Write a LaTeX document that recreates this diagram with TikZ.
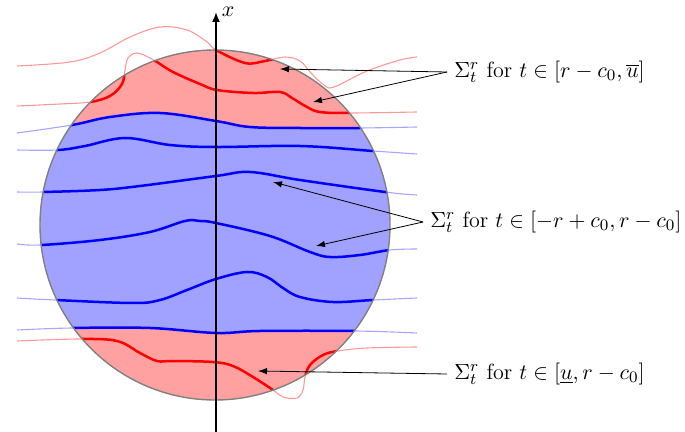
\documentclass[tikz,border=0pt]{standalone}
\usetikzlibrary{arrows.meta}
\begin{document}
\begin{tikzpicture}[x=0.5pt,y=-0.5pt,
 redfill/.style={fill=red!37},
 bluefill/.style={fill=blue!37},
 lightred/.style={draw=red, draw opacity=0.4, line width=0.55pt},
 lightblue/.style={draw=blue, draw opacity=0.35, line width=0.55pt},
 thickred/.style={draw=red, line width=1.25pt},
 thickblue/.style={draw=blue, line width=1.25pt},
 rim/.style={draw=black!50, line width=0.7pt},
 axisline/.style={line width=0.8pt, -{Latex[length=5pt,width=4pt]}},
 pointer/.style={line width=0.4pt, -{Latex[length=4.5pt,width=3.2pt]}},
 lab/.style={anchor=west, inner sep=3.5pt, font=\fontsize{11}{13}\selectfont}]

\useasboundingbox (0,0) rectangle (685,432);

% curves
\def\rA{plot[smooth,tension=0.6] coordinates {(17,66) (70,62) (100,53) (130,37) (160,27) (187,30) (207,42) (216,50) (245,63) (265,61) (285,57) (300,61) (311,73) (324,85) (334,87) (367,71) (400,60) (417,57)}}
\def\rB{plot[smooth,tension=0.6] coordinates {(17,106) (60,104) (90,102) (110,96) (122,84) (125,70) (128,58) (137,53) (150,58) (157,62) (173,72) (200,84) (217,90) (253,93) (280,92) (292,98) (307,107) (320,112) (350,113) (417,112)}}
\def\bT{plot[smooth,tension=0.6] coordinates {(17,133) (72,125) (110,117) (160,113) (216,121) (250,127) (300,128) (360,128) (417,127)}}
\def\bB{plot[smooth,tension=0.6] coordinates {(417,333) (355,331) (260,331) (216,333) (150,328) (72,328) (17,330)}}
\def\bb{plot[smooth,tension=0.6] coordinates {(17,150) (58,150) (85,146) (125,138) (170,145) (216,147) (300,146) (373,151) (417,154)}}
\def\bc{plot[smooth,tension=0.6] coordinates {(17,192) (43,192) (100,190) (140,186) (216,176) (250,172) (300,180) (385,192) (417,195)}}
\def\bd{plot[smooth,tension=0.6] coordinates {(17,244) (41,245) (100,240) (150,232) (185,221) (200,221) (216,223) (270,236) (310,252) (330,257) (360,255) (390,250) (417,249)}}
\def\be{plot[smooth,tension=0.6] coordinates {(17,298) (55,300) (133,303) (160,300) (187,290) (216,279) (247,272) (267,277) (283,288) (300,297) (333,302) (373,300) (417,298)}}
\def\rC{plot[smooth,tension=0.6] coordinates {(17,341) (80,339) (117,341) (140,353) (157,361) (173,361) (213,362) (233,366) (253,377) (273,390) (283,397) (297,398) (303,390) (305,377) (310,365) (323,355) (338,351) (367,348) (417,347)}}

% fills
\begin{scope}
  \clip (215,225) circle[radius=175];
  \fill[redfill] (0,0) rectangle (430,432);
  \fill[bluefill] plot[smooth,tension=0.6] coordinates {(17,133) (72,125) (110,117) (160,113) (216,121) (250,127) (300,128) (360,128) (417,127)}
    -- plot[smooth,tension=0.6] coordinates {(417,333) (355,331) (260,331) (216,333) (150,328) (72,328) (17,330)} -- cycle;
\end{scope}

% light extensions
\draw[lightred] \rA;
\draw[lightred] \rB;
\draw[lightred] \rC;
\draw[lightblue] \bT;
\draw[lightblue] \bB;
\draw[lightblue] \bb;
\draw[lightblue] \bc;
\draw[lightblue] \bd;
\draw[lightblue] \be;

% thick parts inside the ball
\begin{scope}
  \clip (215,225) circle[radius=175];
  \draw[thickred] \rA;
  \draw[thickred] \rB;
  \draw[thickred] \rC;
  \draw[thickblue] \bT;
  \draw[thickblue] \bB;
  \draw[thickblue] \bb;
  \draw[thickblue] \bc;
  \draw[thickblue] \bd;
  \draw[thickblue] \be;
\end{scope}

\draw[rim] (215,225) circle[radius=175];

% axis
\coordinate (axb) at (216,432);
\coordinate (axt) at (216,12);
\draw[axisline] (axb) -- (axt) node[anchor=west, inner sep=2.5pt, font=\fontsize{11}{13}\selectfont] (xl) {$x$};

% labels
\node[lab] (lt) at (447,72) {$\Sigma_t^r$ for $t\in[r-c_0,\overline{u}]$};
\node[lab] (lm) at (423,222) {$\Sigma_t^r$ for $t\in[-r+c_0,r-c_0]$};
\node[lab] (lb) at (447,374) {$\Sigma_t^r$ for $t\in[\underline{u},r-c_0]$};

\coordinate (a1) at (280,69);
\coordinate (a2) at (313,102);
\coordinate (b1) at (273,182);
\coordinate (b2) at (316,246);
\coordinate (c1) at (258,371);

\draw[pointer] (lt.west) -- (a1);
\draw[pointer] (lt.west) -- (a2);
\draw[pointer] (lm.west) -- (b1);
\draw[pointer] (lm.west) -- (b2);
\draw[pointer] (lb.west) -- (c1);
\end{tikzpicture}
\end{document}
